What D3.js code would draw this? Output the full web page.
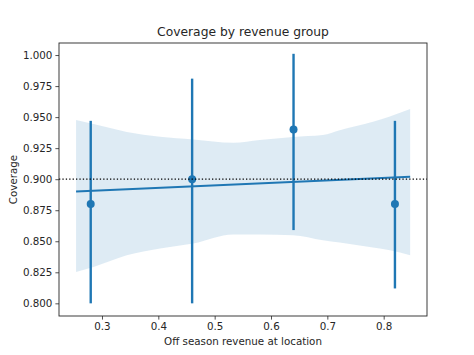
<!DOCTYPE html>
<html>
<head>
<meta charset="utf-8">
<script src="https://cdn.jsdelivr.net/npm/d3@7"></script>
<style>
  html, body { margin: 0; padding: 0; background: #fff; }
  svg { display: block; }
  text { font-family: "DejaVu Sans", sans-serif; fill: #262626; }
</style>
</head>
<body>
<svg id="chart" width="474" height="355"></svg>
<script>
// ---- data ----
const groupX = [0.28, 0.46, 0.64, 0.82];
const groupMean = [0.88, 0.90, 0.94, 0.88];
const errLow = [0.800, 0.800, 0.859, 0.812];
const errHigh = [0.947, 0.981, 1.001, 0.947];

const fitX = [0.254, 0.847];
const fitY = [0.890, 0.902];

const bandX =     [0.254, 0.285, 0.344, 0.403, 0.462, 0.533, 0.580, 0.639, 0.692, 0.722, 0.781, 0.811, 0.847];
const bandUpper = [0.9476, 0.9444, 0.9381, 0.9341, 0.9320, 0.9293, 0.9315, 0.9340, 0.9355, 0.9395, 0.9462, 0.9505, 0.9565];
const bandLower = [0.8252, 0.8293, 0.8387, 0.8441, 0.8481, 0.8554, 0.8554, 0.8548, 0.8508, 0.8490, 0.8450, 0.8427, 0.8387];

const refLine = 0.9;

const xTicks = [0.3, 0.4, 0.5, 0.6, 0.7, 0.8];
const yTicks = [0.800, 0.825, 0.850, 0.875, 0.900, 0.925, 0.950, 0.975, 1.000];

const titleText = "Coverage by revenue group";
const xLabel = "Off season revenue at location";
const yLabel = "Coverage";

// ---- layout ----
const margin = {left: 59, right: 47, top: 43, bottom: 39};
const W = 474, H = 355;
const iw = W - margin.left - margin.right;
const ih = H - margin.top - margin.bottom;
const blue = "#1f77b4";

const svg = d3.select("#chart");
const g = svg.append("g").attr("transform", `translate(${margin.left},${margin.top})`);

const x = d3.scaleLinear().domain([0.2237, 0.8769]).range([0, iw]);
const y = d3.scaleLinear().domain([0.7898, 1.0097]).range([ih, 0]);

// CI band
const bandData = bandX.map((v, i) => ({x: v, lo: bandLower[i], hi: bandUpper[i]}));
g.append("path")
  .datum(bandData)
  .attr("d", d3.area().x(d => x(d.x)).y0(d => y(d.lo)).y1(d => y(d.hi)).curve(d3.curveMonotoneX))
  .attr("fill", blue).attr("fill-opacity", 0.15);

// regression line
g.append("path")
  .datum(fitX.map((v, i) => [v, fitY[i]]))
  .attr("d", d3.line().x(d => x(d[0])).y(d => y(d[1])))
  .attr("fill", "none").attr("stroke", blue).attr("stroke-width", 2);

// error bars
g.selectAll(".err").data(groupX).enter().append("line")
  .attr("x1", d => x(d)).attr("x2", d => x(d))
  .attr("y1", (d, i) => y(errLow[i])).attr("y2", (d, i) => y(errHigh[i]))
  .attr("stroke", blue).attr("stroke-width", 2.4);

// points
g.selectAll(".pt").data(groupX).enter().append("circle")
  .attr("cx", d => x(d)).attr("cy", (d, i) => y(groupMean[i]))
  .attr("r", 4).attr("fill", blue);

// reference dotted line
g.append("line")
  .attr("x1", 0).attr("x2", iw)
  .attr("y1", y(refLine)).attr("y2", y(refLine))
  .attr("stroke", "#000").attr("stroke-width", 1.3)
  .attr("stroke-dasharray", "1.3,2.1");

// axes
const xAxis = g.append("g").attr("transform", `translate(0,${ih})`)
  .call(d3.axisBottom(x).tickValues(xTicks).tickFormat(d3.format(".1f")).tickSizeOuter(0).tickSize(3.6).tickPadding(3));
const yAxis = g.append("g")
  .call(d3.axisLeft(y).tickValues(yTicks).tickFormat(d3.format(".3f")).tickSizeOuter(0).tickSize(3.6).tickPadding(3));
[xAxis, yAxis].forEach(a => {
  a.select(".domain").remove();
  a.selectAll("line").attr("stroke", "#262626").attr("stroke-width", 0.8);
  a.selectAll("text").style("font-size", "10.3px").attr("fill", "#262626")
    .style("font-family", '"DejaVu Sans", sans-serif');
});

// spines
g.append("rect").attr("x", 0).attr("y", 0).attr("width", iw).attr("height", ih)
  .attr("fill", "none").attr("stroke", "#262626").attr("stroke-width", 0.9);

// title and labels
svg.append("text").attr("x", margin.left + iw / 2).attr("y", 36)
  .attr("text-anchor", "middle").style("font-size", "12.3px").text(titleText);
svg.append("text").attr("x", margin.left + iw / 2).attr("y", 345)
  .attr("text-anchor", "middle").style("font-size", "10.3px").text(xLabel);
svg.append("text").attr("transform", `translate(17,${margin.top + ih / 2}) rotate(-90)`)
  .attr("text-anchor", "middle").style("font-size", "10.3px").text(yLabel);
</script>
</body>
</html>
